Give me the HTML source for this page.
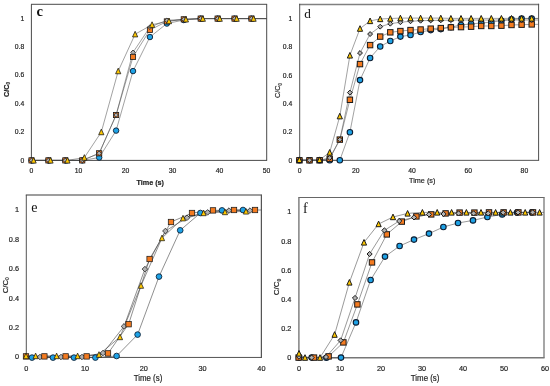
<!DOCTYPE html>
<html lang="en">
<head>
<meta charset="utf-8">
<title>Breakthrough curves c-f</title>
<style>
html,body{margin:0;padding:0;background:#fff;}
body{width:550px;height:386px;overflow:hidden;}
svg{display:block;filter:blur(0.35px);}
svg text{font-family:"Liberation Sans", "DejaVu Sans", sans-serif;fill:#222;stroke:#222;stroke-width:0.18px;}
svg text.pl{font-family:"Liberation Serif", "DejaVu Serif", serif;fill:#111;stroke:none;}
</style>
</head>
<body>
<svg width="550" height="386" viewBox="0 0 550 386">
<defs><clipPath id="clipc"><rect x="31.4" y="1.3" width="235.3" height="162.1"/></clipPath><clipPath id="clipd"><rect x="299.7" y="1.5" width="238.9" height="161.85"/></clipPath><clipPath id="clipe"><rect x="26.3" y="191.9" width="235.1" height="168.55"/></clipPath><clipPath id="clipf"><rect x="298.9" y="194.5" width="245.1" height="166.2"/></clipPath></defs>
<rect x="0" y="0" width="550" height="386" fill="#ffffff"/>
<path d="M31 4.3 H267.1" fill="none" stroke="#404040" stroke-width="0.95"/>
<path d="M266.7 4.3 V160.4" fill="none" stroke="#404040" stroke-width="0.95"/>
<path d="M31.4 4.3 V160.4" fill="none" stroke="#404040" stroke-width="0.95"/>
<path d="M31 160.4 H267.1" fill="none" stroke="#404040" stroke-width="0.95"/>
<text x="31.5" y="173" font-size="6.8" text-anchor="middle">0</text>
<text x="78.5" y="173" font-size="6.8" text-anchor="middle">10</text>
<text x="125.5" y="173" font-size="6.8" text-anchor="middle">20</text>
<text x="172.5" y="173" font-size="6.8" text-anchor="middle">30</text>
<text x="219.5" y="173" font-size="6.8" text-anchor="middle">40</text>
<text x="266.5" y="173" font-size="6.8" text-anchor="middle">50</text>
<text x="24.3" y="162.5" font-size="6.8" text-anchor="end">0</text>
<text x="24.3" y="134.14" font-size="6.8" text-anchor="end">0.2</text>
<text x="24.3" y="105.78" font-size="6.8" text-anchor="end">0.4</text>
<text x="24.3" y="77.42" font-size="6.8" text-anchor="end">0.6</text>
<text x="24.3" y="49.06" font-size="6.8" text-anchor="end">0.8</text>
<text x="24.3" y="20.7" font-size="6.8" text-anchor="end">1</text>
<text transform="translate(150.2 184.8) scale(0.94 1)" font-size="7.7" text-anchor="middle" font-weight="bold">Time (s)</text>
<text transform="translate(8.6 89.5) rotate(-90)" font-size="7.2" text-anchor="middle" font-weight="bold">C/C<tspan font-size="4.46" dy="1.3">0</tspan></text>
<text class="pl" x="36.4" y="16" font-size="14.5" font-weight="bold">c</text>
<g clip-path="url(#clipc)">
<path d="M31.5 160.4 L48.42 160.4 L65.34 160.4 L82.26 160.4 L99.18 157.56 L116.1 130.62 L133.02 71.07 L149.94 37.03 L166.86 23.56 L183.78 20.02 L200.7 18.6 L217.62 18.6 L234.54 18.6 L251.46 18.6 L268.38 18.6" fill="none" stroke="#444" stroke-width="0.5"/>
<path d="M31.5 160.4 L48.42 160.4 L65.34 160.4 L82.26 160.4 L99.18 153.31 L116.1 115.02 L133.02 56.89 L149.94 29.94 L166.86 21.44 L183.78 19.31 L200.7 18.6 L217.62 18.6 L234.54 18.6 L251.46 18.6 L268.38 18.6" fill="none" stroke="#444" stroke-width="0.5"/>
<path d="M31.5 160.4 L48.42 160.4 L65.34 160.4 L82.26 160.4 L99.18 153.31 L116.1 115.02 L133.02 52.35 L149.94 27.11 L166.86 20.3 L183.78 19.31 L200.7 18.6 L217.62 18.6 L234.54 18.6 L251.46 18.6 L268.38 18.6" fill="none" stroke="#444" stroke-width="0.5"/>
<path d="M33.62 160.4 L50.53 160.4 L67.46 160.4 L84.38 157.56 L101.3 132.04 L118.22 71.07 L135.13 34.2 L152.06 24.7 L168.97 21.01 L185.9 19.31 L202.82 18.6 L219.74 18.6 L236.66 18.6 L253.58 18.6 L270.5 18.6" fill="none" stroke="#444" stroke-width="0.5"/>
</g>
<g><circle cx="31.5" cy="160.4" r="2.75" fill="#1ea2e6" stroke="#0c1c30" stroke-width="0.9"/><circle cx="48.42" cy="160.4" r="2.75" fill="#1ea2e6" stroke="#0c1c30" stroke-width="0.9"/><circle cx="65.34" cy="160.4" r="2.75" fill="#1ea2e6" stroke="#0c1c30" stroke-width="0.9"/><circle cx="82.26" cy="160.4" r="2.75" fill="#1ea2e6" stroke="#0c1c30" stroke-width="0.9"/><circle cx="99.18" cy="157.56" r="2.75" fill="#1ea2e6" stroke="#0c1c30" stroke-width="0.9"/><circle cx="116.1" cy="130.62" r="2.75" fill="#1ea2e6" stroke="#0c1c30" stroke-width="0.9"/><circle cx="133.02" cy="71.07" r="2.75" fill="#1ea2e6" stroke="#0c1c30" stroke-width="0.9"/><circle cx="149.94" cy="37.03" r="2.75" fill="#1ea2e6" stroke="#0c1c30" stroke-width="0.9"/><circle cx="166.86" cy="23.56" r="2.75" fill="#1ea2e6" stroke="#0c1c30" stroke-width="0.9"/><circle cx="183.78" cy="20.02" r="2.75" fill="#1ea2e6" stroke="#0c1c30" stroke-width="0.9"/><circle cx="200.7" cy="18.6" r="2.75" fill="#1ea2e6" stroke="#0c1c30" stroke-width="0.9"/><circle cx="217.62" cy="18.6" r="2.75" fill="#1ea2e6" stroke="#0c1c30" stroke-width="0.9"/><circle cx="234.54" cy="18.6" r="2.75" fill="#1ea2e6" stroke="#0c1c30" stroke-width="0.9"/><circle cx="251.46" cy="18.6" r="2.75" fill="#1ea2e6" stroke="#0c1c30" stroke-width="0.9"/></g>
<g><rect x="28.9" y="157.8" width="5.2" height="5.2" fill="#f47b20" stroke="#1a1a1a" stroke-width="0.8"/><rect x="45.82" y="157.8" width="5.2" height="5.2" fill="#f47b20" stroke="#1a1a1a" stroke-width="0.8"/><rect x="62.74" y="157.8" width="5.2" height="5.2" fill="#f47b20" stroke="#1a1a1a" stroke-width="0.8"/><rect x="79.66" y="157.8" width="5.2" height="5.2" fill="#f47b20" stroke="#1a1a1a" stroke-width="0.8"/><rect x="96.58" y="150.71" width="5.2" height="5.2" fill="#f47b20" stroke="#1a1a1a" stroke-width="0.8"/><rect x="113.5" y="112.42" width="5.2" height="5.2" fill="#f47b20" stroke="#1a1a1a" stroke-width="0.8"/><rect x="130.42" y="54.29" width="5.2" height="5.2" fill="#f47b20" stroke="#1a1a1a" stroke-width="0.8"/><rect x="147.34" y="27.34" width="5.2" height="5.2" fill="#f47b20" stroke="#1a1a1a" stroke-width="0.8"/><rect x="164.26" y="18.84" width="5.2" height="5.2" fill="#f47b20" stroke="#1a1a1a" stroke-width="0.8"/><rect x="181.18" y="16.71" width="5.2" height="5.2" fill="#f47b20" stroke="#1a1a1a" stroke-width="0.8"/><rect x="198.1" y="16" width="5.2" height="5.2" fill="#f47b20" stroke="#1a1a1a" stroke-width="0.8"/><rect x="215.02" y="16" width="5.2" height="5.2" fill="#f47b20" stroke="#1a1a1a" stroke-width="0.8"/><rect x="231.94" y="16" width="5.2" height="5.2" fill="#f47b20" stroke="#1a1a1a" stroke-width="0.8"/><rect x="248.86" y="16" width="5.2" height="5.2" fill="#f47b20" stroke="#1a1a1a" stroke-width="0.8"/></g>
<g><polygon points="31.5,158.1 33.8,160.4 31.5,162.7 29.2,160.4" fill="#b2b2b2" stroke="#1a1a1a" stroke-width="0.8"/><polygon points="48.42,158.1 50.72,160.4 48.42,162.7 46.12,160.4" fill="#b2b2b2" stroke="#1a1a1a" stroke-width="0.8"/><polygon points="65.34,158.1 67.64,160.4 65.34,162.7 63.04,160.4" fill="#b2b2b2" stroke="#1a1a1a" stroke-width="0.8"/><polygon points="82.26,158.1 84.56,160.4 82.26,162.7 79.96,160.4" fill="#b2b2b2" stroke="#1a1a1a" stroke-width="0.8"/><polygon points="99.18,151.01 101.48,153.31 99.18,155.61 96.88,153.31" fill="#b2b2b2" stroke="#1a1a1a" stroke-width="0.8"/><polygon points="116.1,112.72 118.4,115.02 116.1,117.32 113.8,115.02" fill="#b2b2b2" stroke="#1a1a1a" stroke-width="0.8"/><polygon points="133.02,50.05 135.32,52.35 133.02,54.65 130.72,52.35" fill="#b2b2b2" stroke="#1a1a1a" stroke-width="0.8"/><polygon points="149.94,24.81 152.24,27.11 149.94,29.41 147.64,27.11" fill="#b2b2b2" stroke="#1a1a1a" stroke-width="0.8"/><polygon points="166.86,18 169.16,20.3 166.86,22.6 164.56,20.3" fill="#b2b2b2" stroke="#1a1a1a" stroke-width="0.8"/><polygon points="183.78,17.01 186.08,19.31 183.78,21.61 181.48,19.31" fill="#b2b2b2" stroke="#1a1a1a" stroke-width="0.8"/><polygon points="200.7,16.3 203,18.6 200.7,20.9 198.4,18.6" fill="#b2b2b2" stroke="#1a1a1a" stroke-width="0.8"/><polygon points="217.62,16.3 219.92,18.6 217.62,20.9 215.32,18.6" fill="#b2b2b2" stroke="#1a1a1a" stroke-width="0.8"/><polygon points="234.54,16.3 236.84,18.6 234.54,20.9 232.24,18.6" fill="#b2b2b2" stroke="#1a1a1a" stroke-width="0.8"/><polygon points="251.46,16.3 253.76,18.6 251.46,20.9 249.16,18.6" fill="#b2b2b2" stroke="#1a1a1a" stroke-width="0.8"/></g>
<g><polygon points="33.62,157.5 36.22,163.1 31.02,163.1" fill="#ffc800" stroke="#1a1a1a" stroke-width="0.8" stroke-linejoin="round"/><polygon points="50.53,157.5 53.13,163.1 47.93,163.1" fill="#ffc800" stroke="#1a1a1a" stroke-width="0.8" stroke-linejoin="round"/><polygon points="67.46,157.5 70.06,163.1 64.86,163.1" fill="#ffc800" stroke="#1a1a1a" stroke-width="0.8" stroke-linejoin="round"/><polygon points="84.38,154.66 86.97,160.26 81.78,160.26" fill="#ffc800" stroke="#1a1a1a" stroke-width="0.8" stroke-linejoin="round"/><polygon points="101.3,129.14 103.89,134.74 98.7,134.74" fill="#ffc800" stroke="#1a1a1a" stroke-width="0.8" stroke-linejoin="round"/><polygon points="118.22,68.17 120.81,73.77 115.62,73.77" fill="#ffc800" stroke="#1a1a1a" stroke-width="0.8" stroke-linejoin="round"/><polygon points="135.13,31.3 137.73,36.9 132.53,36.9" fill="#ffc800" stroke="#1a1a1a" stroke-width="0.8" stroke-linejoin="round"/><polygon points="152.06,21.8 154.66,27.4 149.46,27.4" fill="#ffc800" stroke="#1a1a1a" stroke-width="0.8" stroke-linejoin="round"/><polygon points="168.97,18.11 171.57,23.71 166.38,23.71" fill="#ffc800" stroke="#1a1a1a" stroke-width="0.8" stroke-linejoin="round"/><polygon points="185.9,16.41 188.5,22.01 183.3,22.01" fill="#ffc800" stroke="#1a1a1a" stroke-width="0.8" stroke-linejoin="round"/><polygon points="202.82,15.7 205.42,21.3 200.22,21.3" fill="#ffc800" stroke="#1a1a1a" stroke-width="0.8" stroke-linejoin="round"/><polygon points="219.74,15.7 222.34,21.3 217.14,21.3" fill="#ffc800" stroke="#1a1a1a" stroke-width="0.8" stroke-linejoin="round"/><polygon points="236.66,15.7 239.26,21.3 234.06,21.3" fill="#ffc800" stroke="#1a1a1a" stroke-width="0.8" stroke-linejoin="round"/><polygon points="253.58,15.7 256.18,21.3 250.98,21.3" fill="#ffc800" stroke="#1a1a1a" stroke-width="0.8" stroke-linejoin="round"/></g>
<path d="M299.2 4.5 H539.1" fill="none" stroke="#808080" stroke-width="1.5"/>
<path d="M538.6 3.8 V160.35" fill="none" stroke="#505050" stroke-width="1"/>
<path d="M299.7 3.8 V160.35" fill="none" stroke="#4a4a4a" stroke-width="0.95"/>
<path d="M299.2 160.35 H539.1" fill="none" stroke="#4a4a4a" stroke-width="0.95"/>
<text x="299.6" y="172.6" font-size="6.8" text-anchor="middle">0</text>
<text x="355.8" y="172.6" font-size="6.8" text-anchor="middle">20</text>
<text x="412" y="172.6" font-size="6.8" text-anchor="middle">40</text>
<text x="468.2" y="172.6" font-size="6.8" text-anchor="middle">60</text>
<text x="524.4" y="172.6" font-size="6.8" text-anchor="middle">80</text>
<text x="292.3" y="162.5" font-size="6.8" text-anchor="end">0</text>
<text x="292.3" y="134.22" font-size="6.8" text-anchor="end">0.2</text>
<text x="292.3" y="105.94" font-size="6.8" text-anchor="end">0.4</text>
<text x="292.3" y="77.66" font-size="6.8" text-anchor="end">0.6</text>
<text x="292.3" y="49.38" font-size="6.8" text-anchor="end">0.8</text>
<text x="292.3" y="21.1" font-size="6.8" text-anchor="end">1</text>
<text transform="translate(422.2 183.4) scale(0.94 1)" font-size="7.7" text-anchor="middle">Time (s)</text>
<text transform="translate(280.4 90.5) rotate(-90)" font-size="7.2" text-anchor="middle">C/C<tspan font-size="4.46" dy="1.3">0</tspan></text>
<text class="pl" x="304.2" y="18.4" font-size="13.2">d</text>
<g clip-path="url(#clipd)">
<path d="M299.4 160.3 L309.5 160.3 L319.6 160.3 L329.7 160.3 L339.8 160.3 L349.9 132.24 L360 80.1 L370.1 57.99 L380.2 46.51 L390.3 40.99 L400.4 36.6 L410.5 35.04 L420.6 32.06 L430.7 30.08 L440.8 29.09 L450.9 27.1 L461 24.98 L471.1 23.98 L481.2 22.99 L491.3 22.14 L501.4 20.73 L511.5 19.31 L521.6 18.6 L531.7 18.6 L541.8 18.6" fill="none" stroke="#555" stroke-width="0.55"/>
<path d="M299.4 160.3 L309.5 160.3 L319.6 160.3 L329.7 158.88 L339.8 139.61 L349.9 99.79 L360 64.09 L370.1 45.1 L380.2 36.6 L390.3 32.34 L400.4 31.07 L410.5 30.08 L420.6 29.51 L430.7 28.66 L440.8 28.09 L450.9 27.39 L461 27.1 L471.1 26.68 L481.2 25.97 L491.3 25.97 L501.4 25.69 L511.5 24.98 L521.6 24.69 L531.7 24.41 L541.8 24.27" fill="none" stroke="#555" stroke-width="0.55"/>
<path d="M299.4 160.3 L309.5 160.3 L319.6 160.3 L329.7 157.89 L339.8 139.61 L349.9 92.57 L360 53.03 L370.1 34.05 L380.2 26.68 L390.3 23.7 L400.4 22.28 L410.5 21.29 L420.6 20.73 L430.7 20.44 L440.8 20.3 L450.9 20.16 L461 20.02 L471.1 20.02 L481.2 20.02 L491.3 20.02 L501.4 20.02 L511.5 20.02 L521.6 20.02 L531.7 20.02 L541.8 20.02" fill="none" stroke="#555" stroke-width="0.55"/>
<path d="M299.4 159.8 L309.5 159.8 L319.6 159.8 L329.7 152.43 L339.8 116.16 L349.9 55.37 L360 28.59 L370.1 20.93 L380.2 18.95 L390.3 18.53 L400.4 18.1 L410.5 18.1 L420.6 18.1 L430.7 18.1 L440.8 18.1 L450.9 18.38 L461 18.38 L471.1 18.38 L481.2 18.38 L491.3 18.38 L501.4 18.38 L511.5 18.38 L521.6 18.38 L531.7 18.38 L541.8 18.38" fill="none" stroke="#555" stroke-width="0.55"/>
</g>
<g><circle cx="299.4" cy="160.3" r="2.75" fill="#1ea2e6" stroke="#0c1c30" stroke-width="1.1"/><circle cx="309.5" cy="160.3" r="2.75" fill="#1ea2e6" stroke="#0c1c30" stroke-width="1.1"/><circle cx="319.6" cy="160.3" r="2.75" fill="#1ea2e6" stroke="#0c1c30" stroke-width="1.1"/><circle cx="329.7" cy="160.3" r="2.75" fill="#1ea2e6" stroke="#0c1c30" stroke-width="1.1"/><circle cx="339.8" cy="160.3" r="2.75" fill="#1ea2e6" stroke="#0c1c30" stroke-width="1.1"/><circle cx="349.9" cy="132.24" r="2.75" fill="#1ea2e6" stroke="#0c1c30" stroke-width="1.1"/><circle cx="360" cy="80.1" r="2.75" fill="#1ea2e6" stroke="#0c1c30" stroke-width="1.1"/><circle cx="370.1" cy="57.99" r="2.75" fill="#1ea2e6" stroke="#0c1c30" stroke-width="1.1"/><circle cx="380.2" cy="46.51" r="2.75" fill="#1ea2e6" stroke="#0c1c30" stroke-width="1.1"/><circle cx="390.3" cy="40.99" r="2.75" fill="#1ea2e6" stroke="#0c1c30" stroke-width="1.1"/><circle cx="400.4" cy="36.6" r="2.75" fill="#1ea2e6" stroke="#0c1c30" stroke-width="1.1"/><circle cx="410.5" cy="35.04" r="2.75" fill="#1ea2e6" stroke="#0c1c30" stroke-width="1.1"/><circle cx="420.6" cy="32.06" r="2.75" fill="#1ea2e6" stroke="#0c1c30" stroke-width="1.1"/><circle cx="430.7" cy="30.08" r="2.75" fill="#1ea2e6" stroke="#0c1c30" stroke-width="1.1"/><circle cx="440.8" cy="29.09" r="2.75" fill="#1ea2e6" stroke="#0c1c30" stroke-width="1.1"/><circle cx="450.9" cy="27.1" r="2.75" fill="#1ea2e6" stroke="#0c1c30" stroke-width="1.1"/><circle cx="461" cy="24.98" r="2.75" fill="#1ea2e6" stroke="#0c1c30" stroke-width="1.1"/><circle cx="471.1" cy="23.98" r="2.75" fill="#1ea2e6" stroke="#0c1c30" stroke-width="1.1"/><circle cx="481.2" cy="22.99" r="2.75" fill="#1ea2e6" stroke="#0c1c30" stroke-width="1.1"/><circle cx="491.3" cy="22.14" r="2.75" fill="#1ea2e6" stroke="#0c1c30" stroke-width="1.1"/><circle cx="501.4" cy="20.73" r="2.75" fill="#1ea2e6" stroke="#0c1c30" stroke-width="1.1"/><circle cx="511.5" cy="19.31" r="2.75" fill="#1ea2e6" stroke="#0c1c30" stroke-width="1.1"/><circle cx="521.6" cy="18.6" r="2.75" fill="#1ea2e6" stroke="#0c1c30" stroke-width="1.1"/><circle cx="531.7" cy="18.6" r="2.75" fill="#1ea2e6" stroke="#0c1c30" stroke-width="1.1"/></g>
<g><rect x="296.7" y="157.6" width="5.4" height="5.4" fill="#f47b20" stroke="#1a1a1a" stroke-width="1"/><rect x="306.8" y="157.6" width="5.4" height="5.4" fill="#f47b20" stroke="#1a1a1a" stroke-width="1"/><rect x="316.9" y="157.6" width="5.4" height="5.4" fill="#f47b20" stroke="#1a1a1a" stroke-width="1"/><rect x="327" y="156.18" width="5.4" height="5.4" fill="#f47b20" stroke="#1a1a1a" stroke-width="1"/><rect x="337.1" y="136.91" width="5.4" height="5.4" fill="#f47b20" stroke="#1a1a1a" stroke-width="1"/><rect x="347.2" y="97.09" width="5.4" height="5.4" fill="#f47b20" stroke="#1a1a1a" stroke-width="1"/><rect x="357.3" y="61.39" width="5.4" height="5.4" fill="#f47b20" stroke="#1a1a1a" stroke-width="1"/><rect x="367.4" y="42.4" width="5.4" height="5.4" fill="#f47b20" stroke="#1a1a1a" stroke-width="1"/><rect x="377.5" y="33.9" width="5.4" height="5.4" fill="#f47b20" stroke="#1a1a1a" stroke-width="1"/><rect x="387.6" y="29.64" width="5.4" height="5.4" fill="#f47b20" stroke="#1a1a1a" stroke-width="1"/><rect x="397.7" y="28.37" width="5.4" height="5.4" fill="#f47b20" stroke="#1a1a1a" stroke-width="1"/><rect x="407.8" y="27.38" width="5.4" height="5.4" fill="#f47b20" stroke="#1a1a1a" stroke-width="1"/><rect x="417.9" y="26.81" width="5.4" height="5.4" fill="#f47b20" stroke="#1a1a1a" stroke-width="1"/><rect x="428" y="25.96" width="5.4" height="5.4" fill="#f47b20" stroke="#1a1a1a" stroke-width="1"/><rect x="438.1" y="25.39" width="5.4" height="5.4" fill="#f47b20" stroke="#1a1a1a" stroke-width="1"/><rect x="448.2" y="24.69" width="5.4" height="5.4" fill="#f47b20" stroke="#1a1a1a" stroke-width="1"/><rect x="458.3" y="24.4" width="5.4" height="5.4" fill="#f47b20" stroke="#1a1a1a" stroke-width="1"/><rect x="468.4" y="23.98" width="5.4" height="5.4" fill="#f47b20" stroke="#1a1a1a" stroke-width="1"/><rect x="478.5" y="23.27" width="5.4" height="5.4" fill="#f47b20" stroke="#1a1a1a" stroke-width="1"/><rect x="488.6" y="23.27" width="5.4" height="5.4" fill="#f47b20" stroke="#1a1a1a" stroke-width="1"/><rect x="498.7" y="22.99" width="5.4" height="5.4" fill="#f47b20" stroke="#1a1a1a" stroke-width="1"/><rect x="508.8" y="22.28" width="5.4" height="5.4" fill="#f47b20" stroke="#1a1a1a" stroke-width="1"/><rect x="518.9" y="21.99" width="5.4" height="5.4" fill="#f47b20" stroke="#1a1a1a" stroke-width="1"/><rect x="529" y="21.71" width="5.4" height="5.4" fill="#f47b20" stroke="#1a1a1a" stroke-width="1"/></g>
<g><polygon points="299.4,157.85 301.85,160.3 299.4,162.75 296.95,160.3" fill="#b2b2b2" stroke="#1a1a1a" stroke-width="1"/><polygon points="309.5,157.85 311.95,160.3 309.5,162.75 307.05,160.3" fill="#b2b2b2" stroke="#1a1a1a" stroke-width="1"/><polygon points="319.6,157.85 322.05,160.3 319.6,162.75 317.15,160.3" fill="#b2b2b2" stroke="#1a1a1a" stroke-width="1"/><polygon points="329.7,155.44 332.15,157.89 329.7,160.34 327.25,157.89" fill="#b2b2b2" stroke="#1a1a1a" stroke-width="1"/><polygon points="339.8,137.16 342.25,139.61 339.8,142.06 337.35,139.61" fill="#b2b2b2" stroke="#1a1a1a" stroke-width="1"/><polygon points="349.9,90.12 352.35,92.57 349.9,95.02 347.45,92.57" fill="#b2b2b2" stroke="#1a1a1a" stroke-width="1"/><polygon points="360,50.58 362.45,53.03 360,55.48 357.55,53.03" fill="#b2b2b2" stroke="#1a1a1a" stroke-width="1"/><polygon points="370.1,31.6 372.55,34.05 370.1,36.5 367.65,34.05" fill="#b2b2b2" stroke="#1a1a1a" stroke-width="1"/><polygon points="380.2,24.23 382.65,26.68 380.2,29.13 377.75,26.68" fill="#b2b2b2" stroke="#1a1a1a" stroke-width="1"/><polygon points="390.3,21.25 392.75,23.7 390.3,26.15 387.85,23.7" fill="#b2b2b2" stroke="#1a1a1a" stroke-width="1"/><polygon points="400.4,19.83 402.85,22.28 400.4,24.73 397.95,22.28" fill="#b2b2b2" stroke="#1a1a1a" stroke-width="1"/><polygon points="410.5,18.84 412.95,21.29 410.5,23.74 408.05,21.29" fill="#b2b2b2" stroke="#1a1a1a" stroke-width="1"/><polygon points="420.6,18.28 423.05,20.73 420.6,23.18 418.15,20.73" fill="#b2b2b2" stroke="#1a1a1a" stroke-width="1"/><polygon points="430.7,17.99 433.15,20.44 430.7,22.89 428.25,20.44" fill="#b2b2b2" stroke="#1a1a1a" stroke-width="1"/><polygon points="440.8,17.85 443.25,20.3 440.8,22.75 438.35,20.3" fill="#b2b2b2" stroke="#1a1a1a" stroke-width="1"/><polygon points="450.9,17.71 453.35,20.16 450.9,22.61 448.45,20.16" fill="#b2b2b2" stroke="#1a1a1a" stroke-width="1"/><polygon points="461,17.57 463.45,20.02 461,22.47 458.55,20.02" fill="#b2b2b2" stroke="#1a1a1a" stroke-width="1"/><polygon points="471.1,17.57 473.55,20.02 471.1,22.47 468.65,20.02" fill="#b2b2b2" stroke="#1a1a1a" stroke-width="1"/><polygon points="481.2,17.57 483.65,20.02 481.2,22.47 478.75,20.02" fill="#b2b2b2" stroke="#1a1a1a" stroke-width="1"/><polygon points="491.3,17.57 493.75,20.02 491.3,22.47 488.85,20.02" fill="#b2b2b2" stroke="#1a1a1a" stroke-width="1"/><polygon points="501.4,17.57 503.85,20.02 501.4,22.47 498.95,20.02" fill="#b2b2b2" stroke="#1a1a1a" stroke-width="1"/><polygon points="511.5,17.57 513.95,20.02 511.5,22.47 509.05,20.02" fill="#b2b2b2" stroke="#1a1a1a" stroke-width="1"/><polygon points="521.6,17.57 524.05,20.02 521.6,22.47 519.15,20.02" fill="#b2b2b2" stroke="#1a1a1a" stroke-width="1"/><polygon points="531.7,17.57 534.15,20.02 531.7,22.47 529.25,20.02" fill="#b2b2b2" stroke="#1a1a1a" stroke-width="1"/></g>
<g><polygon points="299.4,156.9 302,162.5 296.8,162.5" fill="#ffc800" stroke="#1a1a1a" stroke-width="1" stroke-linejoin="round"/><polygon points="319.6,156.9 322.2,162.5 317,162.5" fill="#ffc800" stroke="#1a1a1a" stroke-width="1" stroke-linejoin="round"/><polygon points="329.7,149.53 332.3,155.13 327.1,155.13" fill="#ffc800" stroke="#1a1a1a" stroke-width="1" stroke-linejoin="round"/><polygon points="339.8,113.26 342.4,118.86 337.2,118.86" fill="#ffc800" stroke="#1a1a1a" stroke-width="1" stroke-linejoin="round"/><polygon points="349.9,52.47 352.5,58.07 347.3,58.07" fill="#ffc800" stroke="#1a1a1a" stroke-width="1" stroke-linejoin="round"/><polygon points="360,25.69 362.6,31.29 357.4,31.29" fill="#ffc800" stroke="#1a1a1a" stroke-width="1" stroke-linejoin="round"/><polygon points="370.1,18.03 372.7,23.63 367.5,23.63" fill="#ffc800" stroke="#1a1a1a" stroke-width="1" stroke-linejoin="round"/><polygon points="380.2,16.05 382.8,21.65 377.6,21.65" fill="#ffc800" stroke="#1a1a1a" stroke-width="1" stroke-linejoin="round"/><polygon points="390.3,15.63 392.9,21.23 387.7,21.23" fill="#ffc800" stroke="#1a1a1a" stroke-width="1" stroke-linejoin="round"/><polygon points="400.4,15.2 403,20.8 397.8,20.8" fill="#ffc800" stroke="#1a1a1a" stroke-width="1" stroke-linejoin="round"/><polygon points="410.5,15.2 413.1,20.8 407.9,20.8" fill="#ffc800" stroke="#1a1a1a" stroke-width="1" stroke-linejoin="round"/><polygon points="420.6,15.2 423.2,20.8 418,20.8" fill="#ffc800" stroke="#1a1a1a" stroke-width="1" stroke-linejoin="round"/><polygon points="430.7,15.2 433.3,20.8 428.1,20.8" fill="#ffc800" stroke="#1a1a1a" stroke-width="1" stroke-linejoin="round"/><polygon points="440.8,15.2 443.4,20.8 438.2,20.8" fill="#ffc800" stroke="#1a1a1a" stroke-width="1" stroke-linejoin="round"/><polygon points="450.9,15.48 453.5,21.08 448.3,21.08" fill="#ffc800" stroke="#1a1a1a" stroke-width="1" stroke-linejoin="round"/><polygon points="461,15.48 463.6,21.08 458.4,21.08" fill="#ffc800" stroke="#1a1a1a" stroke-width="1" stroke-linejoin="round"/><polygon points="471.1,15.48 473.7,21.08 468.5,21.08" fill="#ffc800" stroke="#1a1a1a" stroke-width="1" stroke-linejoin="round"/><polygon points="481.2,15.48 483.8,21.08 478.6,21.08" fill="#ffc800" stroke="#1a1a1a" stroke-width="1" stroke-linejoin="round"/><polygon points="491.3,15.48 493.9,21.08 488.7,21.08" fill="#ffc800" stroke="#1a1a1a" stroke-width="1" stroke-linejoin="round"/><polygon points="501.4,15.48 504,21.08 498.8,21.08" fill="#ffc800" stroke="#1a1a1a" stroke-width="1" stroke-linejoin="round"/><polygon points="511.5,15.48 514.1,21.08 508.9,21.08" fill="#ffc800" stroke="#1a1a1a" stroke-width="1" stroke-linejoin="round"/><polygon points="521.6,15.48 524.2,21.08 519,21.08" fill="#ffc800" stroke="#1a1a1a" stroke-width="1" stroke-linejoin="round"/><polygon points="531.7,15.48 534.3,21.08 529.1,21.08" fill="#ffc800" stroke="#1a1a1a" stroke-width="1" stroke-linejoin="round"/></g>
<path d="M25.8 194.9 H262" fill="none" stroke="#7c7c7c" stroke-width="1.5"/>
<path d="M261.4 194.9 V357.45" fill="none" stroke="#555" stroke-width="1.25"/>
<path d="M26.3 194.9 V357.45" fill="none" stroke="#4a4a4a" stroke-width="0.95"/>
<path d="M25.8 357.45 H262" fill="none" stroke="#4a4a4a" stroke-width="0.95"/>
<text x="26.2" y="370.7" font-size="7.3" text-anchor="middle">0</text>
<text x="85" y="370.7" font-size="7.3" text-anchor="middle">10</text>
<text x="143.8" y="370.7" font-size="7.3" text-anchor="middle">20</text>
<text x="202.6" y="370.7" font-size="7.3" text-anchor="middle">30</text>
<text x="261.4" y="370.7" font-size="7.3" text-anchor="middle">40</text>
<text x="19" y="359.4" font-size="7.3" text-anchor="end">0</text>
<text x="19" y="330" font-size="7.3" text-anchor="end">0.2</text>
<text x="19" y="300.6" font-size="7.3" text-anchor="end">0.4</text>
<text x="19" y="271.2" font-size="7.3" text-anchor="end">0.6</text>
<text x="19" y="241.8" font-size="7.3" text-anchor="end">0.8</text>
<text x="19" y="212.4" font-size="7.3" text-anchor="end">1</text>
<text transform="translate(148 381) scale(0.94 1)" font-size="8.4" text-anchor="middle">Time (s)</text>
<text transform="translate(8 285.3) rotate(-90)" font-size="7.8" text-anchor="middle">C/C<tspan font-size="4.84" dy="1.4">0</tspan></text>
<text class="pl" x="31.2" y="212" font-size="14">e</text>
<g clip-path="url(#clipe)">
<path d="M32 357.6 L53 357.6 L74 357.6 L95.4 357.6 L116.6 356 L137.6 334.6 L159 276.6 L180.2 230.3 L200.4 213 L222 210.4 L243 210" fill="none" stroke="#444" stroke-width="0.6"/>
<path d="M40 357 L61 357 L82 357 L103 353 L124 326.4 L144.9 269.1 L165.4 231 L187 217.8 L207.6 212.4 L229 210.6 L250 210.6" fill="none" stroke="#444" stroke-width="0.6"/>
<path d="M26 356.4 L44.4 356.4 L65.6 356.4 L86.6 356.4 L108 353.4 L128.6 324.2 L149.6 259 L171 222 L192 213 L213 210.4 L234 210 L255 210 L276 210" fill="none" stroke="#444" stroke-width="0.6"/>
<path d="M26 356 L35.6 356 L56.6 356 L77.6 356 L99 354.6 L120 337 L141 285.6 L162 238 L183 218.2 L203.6 213 L225 212 L246 211.4" fill="none" stroke="#444" stroke-width="0.6"/>
</g>
<g><circle cx="32" cy="357.6" r="2.85" fill="#1ea2e6" stroke="#0c1c30" stroke-width="0.85"/><circle cx="53" cy="357.6" r="2.85" fill="#1ea2e6" stroke="#0c1c30" stroke-width="0.85"/><circle cx="74" cy="357.6" r="2.85" fill="#1ea2e6" stroke="#0c1c30" stroke-width="0.85"/><circle cx="95.4" cy="357.6" r="2.85" fill="#1ea2e6" stroke="#0c1c30" stroke-width="0.85"/><circle cx="116.6" cy="356" r="2.85" fill="#1ea2e6" stroke="#0c1c30" stroke-width="0.85"/><circle cx="137.6" cy="334.6" r="2.85" fill="#1ea2e6" stroke="#0c1c30" stroke-width="0.85"/><circle cx="159" cy="276.6" r="2.85" fill="#1ea2e6" stroke="#0c1c30" stroke-width="0.85"/><circle cx="180.2" cy="230.3" r="2.85" fill="#1ea2e6" stroke="#0c1c30" stroke-width="0.85"/><circle cx="200.4" cy="213" r="2.85" fill="#1ea2e6" stroke="#0c1c30" stroke-width="0.85"/><circle cx="222" cy="210.4" r="2.85" fill="#1ea2e6" stroke="#0c1c30" stroke-width="0.85"/><circle cx="243" cy="210" r="2.85" fill="#1ea2e6" stroke="#0c1c30" stroke-width="0.85"/></g>
<g><polygon points="40,354.2 42.8,357 40,359.8 37.2,357" fill="#b2b2b2" stroke="#1a1a1a" stroke-width="0.75"/><polygon points="61,354.2 63.8,357 61,359.8 58.2,357" fill="#b2b2b2" stroke="#1a1a1a" stroke-width="0.75"/><polygon points="82,354.2 84.8,357 82,359.8 79.2,357" fill="#b2b2b2" stroke="#1a1a1a" stroke-width="0.75"/><polygon points="103,350.2 105.8,353 103,355.8 100.2,353" fill="#b2b2b2" stroke="#1a1a1a" stroke-width="0.75"/><polygon points="124,323.6 126.8,326.4 124,329.2 121.2,326.4" fill="#b2b2b2" stroke="#1a1a1a" stroke-width="0.75"/><polygon points="144.9,266.3 147.7,269.1 144.9,271.9 142.1,269.1" fill="#b2b2b2" stroke="#1a1a1a" stroke-width="0.75"/><polygon points="165.4,228.2 168.2,231 165.4,233.8 162.6,231" fill="#b2b2b2" stroke="#1a1a1a" stroke-width="0.75"/><polygon points="187,215 189.8,217.8 187,220.6 184.2,217.8" fill="#b2b2b2" stroke="#1a1a1a" stroke-width="0.75"/><polygon points="207.6,209.6 210.4,212.4 207.6,215.2 204.8,212.4" fill="#b2b2b2" stroke="#1a1a1a" stroke-width="0.75"/><polygon points="229,207.8 231.8,210.6 229,213.4 226.2,210.6" fill="#b2b2b2" stroke="#1a1a1a" stroke-width="0.75"/><polygon points="250,207.8 252.8,210.6 250,213.4 247.2,210.6" fill="#b2b2b2" stroke="#1a1a1a" stroke-width="0.75"/></g>
<g><rect x="23.3" y="353.7" width="5.4" height="5.4" fill="#f47b20" stroke="#1a1a1a" stroke-width="0.75"/><rect x="41.7" y="353.7" width="5.4" height="5.4" fill="#f47b20" stroke="#1a1a1a" stroke-width="0.75"/><rect x="62.9" y="353.7" width="5.4" height="5.4" fill="#f47b20" stroke="#1a1a1a" stroke-width="0.75"/><rect x="83.9" y="353.7" width="5.4" height="5.4" fill="#f47b20" stroke="#1a1a1a" stroke-width="0.75"/><rect x="105.3" y="350.7" width="5.4" height="5.4" fill="#f47b20" stroke="#1a1a1a" stroke-width="0.75"/><rect x="125.9" y="321.5" width="5.4" height="5.4" fill="#f47b20" stroke="#1a1a1a" stroke-width="0.75"/><rect x="146.9" y="256.3" width="5.4" height="5.4" fill="#f47b20" stroke="#1a1a1a" stroke-width="0.75"/><rect x="168.3" y="219.3" width="5.4" height="5.4" fill="#f47b20" stroke="#1a1a1a" stroke-width="0.75"/><rect x="189.3" y="210.3" width="5.4" height="5.4" fill="#f47b20" stroke="#1a1a1a" stroke-width="0.75"/><rect x="210.3" y="207.7" width="5.4" height="5.4" fill="#f47b20" stroke="#1a1a1a" stroke-width="0.75"/><rect x="231.3" y="207.3" width="5.4" height="5.4" fill="#f47b20" stroke="#1a1a1a" stroke-width="0.75"/><rect x="252.3" y="207.3" width="5.4" height="5.4" fill="#f47b20" stroke="#1a1a1a" stroke-width="0.75"/></g>
<g><polygon points="26,353.1 28.6,358.7 23.4,358.7" fill="#ffc800" stroke="#1a1a1a" stroke-width="0.75" stroke-linejoin="round"/><polygon points="35.6,353.1 38.2,358.7 33,358.7" fill="#ffc800" stroke="#1a1a1a" stroke-width="0.75" stroke-linejoin="round"/><polygon points="56.6,353.1 59.2,358.7 54,358.7" fill="#ffc800" stroke="#1a1a1a" stroke-width="0.75" stroke-linejoin="round"/><polygon points="77.6,353.1 80.2,358.7 75,358.7" fill="#ffc800" stroke="#1a1a1a" stroke-width="0.75" stroke-linejoin="round"/><polygon points="99,351.7 101.6,357.3 96.4,357.3" fill="#ffc800" stroke="#1a1a1a" stroke-width="0.75" stroke-linejoin="round"/><polygon points="120,334.1 122.6,339.7 117.4,339.7" fill="#ffc800" stroke="#1a1a1a" stroke-width="0.75" stroke-linejoin="round"/><polygon points="141,282.7 143.6,288.3 138.4,288.3" fill="#ffc800" stroke="#1a1a1a" stroke-width="0.75" stroke-linejoin="round"/><polygon points="162,235.1 164.6,240.7 159.4,240.7" fill="#ffc800" stroke="#1a1a1a" stroke-width="0.75" stroke-linejoin="round"/><polygon points="183,215.3 185.6,220.9 180.4,220.9" fill="#ffc800" stroke="#1a1a1a" stroke-width="0.75" stroke-linejoin="round"/><polygon points="203.6,210.1 206.2,215.7 201,215.7" fill="#ffc800" stroke="#1a1a1a" stroke-width="0.75" stroke-linejoin="round"/><polygon points="225,209.1 227.6,214.7 222.4,214.7" fill="#ffc800" stroke="#1a1a1a" stroke-width="0.75" stroke-linejoin="round"/><polygon points="246,208.5 248.6,214.1 243.4,214.1" fill="#ffc800" stroke="#1a1a1a" stroke-width="0.75" stroke-linejoin="round"/></g>
<path d="M298.3 197.5 H544.6" fill="none" stroke="#4a4a4a" stroke-width="0.85"/>
<path d="M544 197.5 V357.7" fill="none" stroke="#777" stroke-width="1.3"/>
<path d="M298.9 197.5 V357.7" fill="none" stroke="#777" stroke-width="1.4"/>
<path d="M298.3 357.7 H544.6" fill="none" stroke="#777" stroke-width="1.4"/>
<text x="299" y="371" font-size="7.3" text-anchor="middle">0</text>
<text x="340" y="371" font-size="7.3" text-anchor="middle">10</text>
<text x="381" y="371" font-size="7.3" text-anchor="middle">20</text>
<text x="422" y="371" font-size="7.3" text-anchor="middle">30</text>
<text x="463" y="371" font-size="7.3" text-anchor="middle">40</text>
<text x="504" y="371" font-size="7.3" text-anchor="middle">50</text>
<text x="545" y="371" font-size="7.3" text-anchor="middle">60</text>
<text x="291.3" y="360.3" font-size="7.3" text-anchor="end">0</text>
<text x="291.3" y="331.1" font-size="7.3" text-anchor="end">0.2</text>
<text x="291.3" y="301.9" font-size="7.3" text-anchor="end">0.4</text>
<text x="291.3" y="272.7" font-size="7.3" text-anchor="end">0.6</text>
<text x="291.3" y="243.5" font-size="7.3" text-anchor="end">0.8</text>
<text x="291.3" y="214.3" font-size="7.3" text-anchor="end">1</text>
<text transform="translate(425.1 381.3) scale(0.94 1)" font-size="8.4" text-anchor="middle">Time (s)</text>
<text transform="translate(279.4 287) rotate(-90)" font-size="8" text-anchor="middle">C/C<tspan font-size="4.96" dy="1.44">0</tspan></text>
<text class="pl" x="303" y="213" font-size="14">f</text>
<g clip-path="url(#clipf)">
<path d="M299 357.6 L311.7 357.6 L326.4 357.8 L341 357.6 L356 322.4 L370.6 280 L385 256.6 L399.6 246 L414 239.6 L429 233.6 L443.4 227 L458 223 L473 220.4 L487.4 217 L502.2 214.4 L517.1 212.6 L532 212.4" fill="none" stroke="#555" stroke-width="0.6"/>
<path d="M298.6 357.6 L314 357.6 L328.6 356.4 L343.4 342.4 L357.4 304.4 L372 262.4 L386.8 234.4 L401.8 221.6 L416.4 216.4 L431.2 214.4 L445.6 213.4 L459.6 212.6 L474.4 212.6 L489 212.4 L503.6 212.4 L518.4 212.4 L533 212.4" fill="none" stroke="#555" stroke-width="0.6"/>
<path d="M299 356.6 L311.6 357.6 L326 357 L340.6 340.4 L355 298 L369.6 254 L384.4 230.4 L399.2 221 L414 217.4 L429 214.4 L443.6 214 L458.6 213.4 L473.6 213.4 L488.2 213.4 L503.2 212.6 L518 212.4 L532.6 212.4" fill="none" stroke="#555" stroke-width="0.6"/>
<path d="M299 353.4 L305 357.6 L320 357.6 L334.6 334.6 L349.4 282.4 L364 242.4 L378.6 224 L393 217 L407.6 213.4 L422.4 212.4 L437.2 212.4 L451.6 212.4 L466.4 212.4 L481 212.4 L495.6 212.4 L510.4 212.4 L525.2 212.4 L539.6 212.4 L554.4 212.4" fill="none" stroke="#555" stroke-width="0.6"/>
</g>
<g><circle cx="299" cy="357.6" r="2.75" fill="#1ea2e6" stroke="#0c1c30" stroke-width="1.1"/><circle cx="311.7" cy="357.6" r="2.75" fill="#1ea2e6" stroke="#0c1c30" stroke-width="1.1"/><circle cx="326.4" cy="357.8" r="2.75" fill="#1ea2e6" stroke="#0c1c30" stroke-width="1.1"/><circle cx="341" cy="357.6" r="2.75" fill="#1ea2e6" stroke="#0c1c30" stroke-width="1.1"/><circle cx="356" cy="322.4" r="2.75" fill="#1ea2e6" stroke="#0c1c30" stroke-width="1.1"/><circle cx="370.6" cy="280" r="2.75" fill="#1ea2e6" stroke="#0c1c30" stroke-width="1.1"/><circle cx="385" cy="256.6" r="2.75" fill="#1ea2e6" stroke="#0c1c30" stroke-width="1.1"/><circle cx="399.6" cy="246" r="2.75" fill="#1ea2e6" stroke="#0c1c30" stroke-width="1.1"/><circle cx="414" cy="239.6" r="2.75" fill="#1ea2e6" stroke="#0c1c30" stroke-width="1.1"/><circle cx="429" cy="233.6" r="2.75" fill="#1ea2e6" stroke="#0c1c30" stroke-width="1.1"/><circle cx="443.4" cy="227" r="2.75" fill="#1ea2e6" stroke="#0c1c30" stroke-width="1.1"/><circle cx="458" cy="223" r="2.75" fill="#1ea2e6" stroke="#0c1c30" stroke-width="1.1"/><circle cx="473" cy="220.4" r="2.75" fill="#1ea2e6" stroke="#0c1c30" stroke-width="1.1"/><circle cx="487.4" cy="217" r="2.75" fill="#1ea2e6" stroke="#0c1c30" stroke-width="1.1"/><circle cx="502.2" cy="214.4" r="2.75" fill="#1ea2e6" stroke="#0c1c30" stroke-width="1.1"/><circle cx="517.1" cy="212.6" r="2.75" fill="#1ea2e6" stroke="#0c1c30" stroke-width="1.1"/><circle cx="532" cy="212.4" r="2.75" fill="#1ea2e6" stroke="#0c1c30" stroke-width="1.1"/></g>
<g><rect x="295.9" y="354.9" width="5.4" height="5.4" fill="#f47b20" stroke="#1a1a1a" stroke-width="1"/><rect x="311.3" y="354.9" width="5.4" height="5.4" fill="#f47b20" stroke="#1a1a1a" stroke-width="1"/><rect x="325.9" y="353.7" width="5.4" height="5.4" fill="#f47b20" stroke="#1a1a1a" stroke-width="1"/><rect x="340.7" y="339.7" width="5.4" height="5.4" fill="#f47b20" stroke="#1a1a1a" stroke-width="1"/><rect x="354.7" y="301.7" width="5.4" height="5.4" fill="#f47b20" stroke="#1a1a1a" stroke-width="1"/><rect x="369.3" y="259.7" width="5.4" height="5.4" fill="#f47b20" stroke="#1a1a1a" stroke-width="1"/><rect x="384.1" y="231.7" width="5.4" height="5.4" fill="#f47b20" stroke="#1a1a1a" stroke-width="1"/><rect x="399.1" y="218.9" width="5.4" height="5.4" fill="#f47b20" stroke="#1a1a1a" stroke-width="1"/><rect x="413.7" y="213.7" width="5.4" height="5.4" fill="#f47b20" stroke="#1a1a1a" stroke-width="1"/><rect x="428.5" y="211.7" width="5.4" height="5.4" fill="#f47b20" stroke="#1a1a1a" stroke-width="1"/><rect x="442.9" y="210.7" width="5.4" height="5.4" fill="#f47b20" stroke="#1a1a1a" stroke-width="1"/><rect x="456.9" y="209.9" width="5.4" height="5.4" fill="#f47b20" stroke="#1a1a1a" stroke-width="1"/><rect x="471.7" y="209.9" width="5.4" height="5.4" fill="#f47b20" stroke="#1a1a1a" stroke-width="1"/><rect x="486.3" y="209.7" width="5.4" height="5.4" fill="#f47b20" stroke="#1a1a1a" stroke-width="1"/><rect x="500.9" y="209.7" width="5.4" height="5.4" fill="#f47b20" stroke="#1a1a1a" stroke-width="1"/><rect x="515.7" y="209.7" width="5.4" height="5.4" fill="#f47b20" stroke="#1a1a1a" stroke-width="1"/><rect x="530.3" y="209.7" width="5.4" height="5.4" fill="#f47b20" stroke="#1a1a1a" stroke-width="1"/></g>
<g><polygon points="299,354 301.6,356.6 299,359.2 296.4,356.6" fill="#b2b2b2" stroke="#1a1a1a" stroke-width="1"/><polygon points="311.6,355 314.2,357.6 311.6,360.2 309,357.6" fill="#b2b2b2" stroke="#1a1a1a" stroke-width="1"/><polygon points="326,354.4 328.6,357 326,359.6 323.4,357" fill="#b2b2b2" stroke="#1a1a1a" stroke-width="1"/><polygon points="340.6,337.8 343.2,340.4 340.6,343 338,340.4" fill="#b2b2b2" stroke="#1a1a1a" stroke-width="1"/><polygon points="355,295.4 357.6,298 355,300.6 352.4,298" fill="#b2b2b2" stroke="#1a1a1a" stroke-width="1"/><polygon points="369.6,251.4 372.2,254 369.6,256.6 367,254" fill="#b2b2b2" stroke="#1a1a1a" stroke-width="1"/><polygon points="384.4,227.8 387,230.4 384.4,233 381.8,230.4" fill="#b2b2b2" stroke="#1a1a1a" stroke-width="1"/><polygon points="399.2,218.4 401.8,221 399.2,223.6 396.6,221" fill="#b2b2b2" stroke="#1a1a1a" stroke-width="1"/><polygon points="414,214.8 416.6,217.4 414,220 411.4,217.4" fill="#b2b2b2" stroke="#1a1a1a" stroke-width="1"/><polygon points="429,211.8 431.6,214.4 429,217 426.4,214.4" fill="#b2b2b2" stroke="#1a1a1a" stroke-width="1"/><polygon points="443.6,211.4 446.2,214 443.6,216.6 441,214" fill="#b2b2b2" stroke="#1a1a1a" stroke-width="1"/><polygon points="458.6,210.8 461.2,213.4 458.6,216 456,213.4" fill="#b2b2b2" stroke="#1a1a1a" stroke-width="1"/><polygon points="473.6,210.8 476.2,213.4 473.6,216 471,213.4" fill="#b2b2b2" stroke="#1a1a1a" stroke-width="1"/><polygon points="488.2,210.8 490.8,213.4 488.2,216 485.6,213.4" fill="#b2b2b2" stroke="#1a1a1a" stroke-width="1"/><polygon points="503.2,210 505.8,212.6 503.2,215.2 500.6,212.6" fill="#b2b2b2" stroke="#1a1a1a" stroke-width="1"/><polygon points="518,209.8 520.6,212.4 518,215 515.4,212.4" fill="#b2b2b2" stroke="#1a1a1a" stroke-width="1"/><polygon points="532.6,209.8 535.2,212.4 532.6,215 530,212.4" fill="#b2b2b2" stroke="#1a1a1a" stroke-width="1"/></g>
<g><polygon points="299,350.5 301.6,356.1 296.4,356.1" fill="#ffc800" stroke="#1a1a1a" stroke-width="1" stroke-linejoin="round"/><polygon points="305,354.7 307.6,360.3 302.4,360.3" fill="#ffc800" stroke="#1a1a1a" stroke-width="1" stroke-linejoin="round"/><polygon points="320,354.7 322.6,360.3 317.4,360.3" fill="#ffc800" stroke="#1a1a1a" stroke-width="1" stroke-linejoin="round"/><polygon points="334.6,331.7 337.2,337.3 332,337.3" fill="#ffc800" stroke="#1a1a1a" stroke-width="1" stroke-linejoin="round"/><polygon points="349.4,279.5 352,285.1 346.8,285.1" fill="#ffc800" stroke="#1a1a1a" stroke-width="1" stroke-linejoin="round"/><polygon points="364,239.5 366.6,245.1 361.4,245.1" fill="#ffc800" stroke="#1a1a1a" stroke-width="1" stroke-linejoin="round"/><polygon points="378.6,221.1 381.2,226.7 376,226.7" fill="#ffc800" stroke="#1a1a1a" stroke-width="1" stroke-linejoin="round"/><polygon points="393,214.1 395.6,219.7 390.4,219.7" fill="#ffc800" stroke="#1a1a1a" stroke-width="1" stroke-linejoin="round"/><polygon points="407.6,210.5 410.2,216.1 405,216.1" fill="#ffc800" stroke="#1a1a1a" stroke-width="1" stroke-linejoin="round"/><polygon points="422.4,209.5 425,215.1 419.8,215.1" fill="#ffc800" stroke="#1a1a1a" stroke-width="1" stroke-linejoin="round"/><polygon points="437.2,209.5 439.8,215.1 434.6,215.1" fill="#ffc800" stroke="#1a1a1a" stroke-width="1" stroke-linejoin="round"/><polygon points="451.6,209.5 454.2,215.1 449,215.1" fill="#ffc800" stroke="#1a1a1a" stroke-width="1" stroke-linejoin="round"/><polygon points="466.4,209.5 469,215.1 463.8,215.1" fill="#ffc800" stroke="#1a1a1a" stroke-width="1" stroke-linejoin="round"/><polygon points="481,209.5 483.6,215.1 478.4,215.1" fill="#ffc800" stroke="#1a1a1a" stroke-width="1" stroke-linejoin="round"/><polygon points="495.6,209.5 498.2,215.1 493,215.1" fill="#ffc800" stroke="#1a1a1a" stroke-width="1" stroke-linejoin="round"/><polygon points="510.4,209.5 513,215.1 507.8,215.1" fill="#ffc800" stroke="#1a1a1a" stroke-width="1" stroke-linejoin="round"/><polygon points="525.2,209.5 527.8,215.1 522.6,215.1" fill="#ffc800" stroke="#1a1a1a" stroke-width="1" stroke-linejoin="round"/><polygon points="539.6,209.5 542.2,215.1 537,215.1" fill="#ffc800" stroke="#1a1a1a" stroke-width="1" stroke-linejoin="round"/></g>
</svg>
</body>
</html>
